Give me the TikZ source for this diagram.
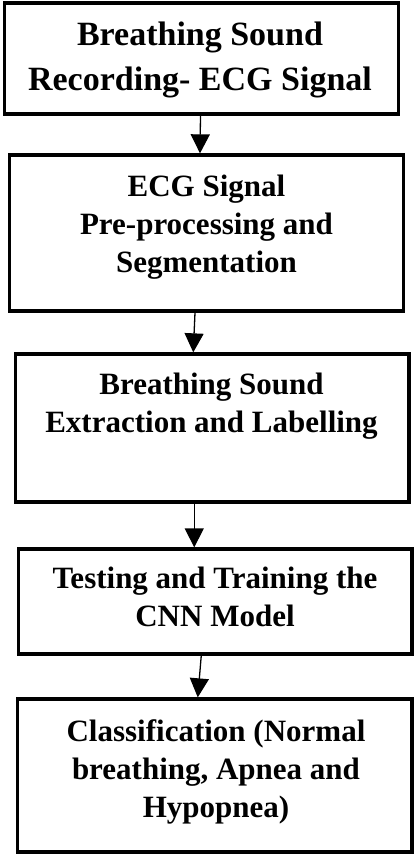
\documentclass[tikz,border=0pt]{standalone}
\usepackage{fontspec}
\setmainfont{Liberation Serif}
\usetikzlibrary{arrows.meta}

\begin{document}
\begin{tikzpicture}[x=1pt, y=-1pt,
    stage/.style={draw, line width=3.3pt, inner sep=0pt},
    stagetext/.style={align=center, inner sep=0pt, font=\bfseries\fontsize{31}{38}\selectfont},
    flow/.style={line width=1.3pt, -{Triangle[width=19pt, length=19pt]}}]
                \useasboundingbox (0,0) rectangle (417,856);

                % boxes
                \node[stage, minimum width=394pt, minimum height=111pt] (S1) at (201.5,58.5) {};
                \node[stage, minimum width=394pt, minimum height=156pt] (S2) at (206.5,233) {};
                \node[stage, minimum width=393.5pt, minimum height=148pt] (S3) at (212.25,428) {};
                \node[stage, minimum width=393.5pt, minimum height=105pt] (S4) at (215.25,601.5) {};
                \node[stage, minimum width=394.5pt, minimum height=153pt] (S5) at (214.75,775.5) {};

                % texts
                \node[stagetext, font=\bfseries\fontsize{34}{45}\selectfont] (T1) at (200,59.6) {Breathing Sound\\Recording- ECG Signal};
                \node[stagetext] (T2) at (206.5,227.5) {ECG Signal\\Pre-processing and\\Segmentation};
                \node[stagetext] (T3) at (211.5,406.5) {Breathing Sound\\Extraction and Labelling};
                \node[stagetext] (T4) at (215,597) {Testing and Training the\\CNN Model};
                \node[stagetext] (T5) at (216,772) {Classification (Normal\\breathing, Apnea and\\Hypopnea)};

                \draw[flow] ([xshift=-1pt]S1.south) -- ([xshift=-6.5pt]S2.north);
                \draw[flow] ([xshift=-11.5pt]S2.south) -- ([xshift=-19pt]S3.north);
                \draw[flow] ([xshift=-18pt]S3.south) -- ([xshift=-21pt]S4.north);
                \draw[flow] ([xshift=-14pt]S4.south) -- ([xshift=-17pt]S5.north);
            \end{tikzpicture}
\end{document}
